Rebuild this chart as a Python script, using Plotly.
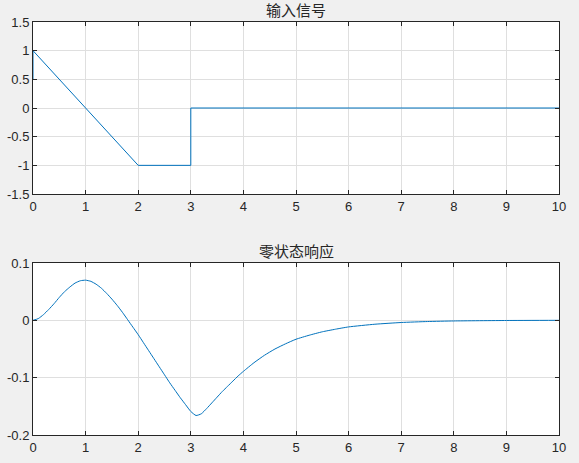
import plotly.graph_objects as go

# Input signal breakpoints
t_in = [0, 0, 2, 3, 3, 10]
x_in = [0.5, 1, -1, -1, 0, 0]

# Zero-state response
t_out = [0, 0.1, 0.2, 0.3, 0.4, 0.5, 0.6, 0.7, 0.8, 0.9, 1.0, 1.1, 1.2, 1.3, 1.4, 1.5,
         1.6, 1.7, 1.8, 1.9, 2.0, 2.1, 2.2, 2.3, 2.4, 2.5, 2.6, 2.7, 2.8, 2.9, 3.0, 3.1,
         3.2, 3.3, 3.4, 3.5, 3.6, 3.7, 3.8, 3.9, 4.0, 4.2, 4.4, 4.6, 4.8, 5.0, 5.25, 5.5,
         5.75, 6.0, 6.5, 7.0, 7.5, 8.0, 9.0, 10.0]
y_out = [0, 0.003, 0.010, 0.019, 0.029, 0.040, 0.050, 0.058, 0.065, 0.069, 0.070, 0.068,
         0.063, 0.056, 0.047, 0.037, 0.026, 0.014, 0.001, -0.012, -0.025, -0.039, -0.053,
         -0.067, -0.081, -0.095, -0.109, -0.122, -0.135, -0.147, -0.159, -0.166, -0.163,
         -0.154, -0.144, -0.134, -0.124, -0.115, -0.106, -0.097, -0.089, -0.074, -0.061,
         -0.050, -0.041, -0.033, -0.026, -0.020, -0.0155, -0.0115, -0.0068, -0.0038,
         -0.0021, -0.0011, -0.0003, 0]

top_yticks = [-1.5, -1, -0.5, 0, 0.5, 1, 1.5]
top_yticklabels = ["-1.5", "-1", "-0.5", "0", "0.5", "1", "1.5"]
bot_yticks = [-0.2, -0.1, 0, 0.1]
bot_yticklabels = ["-0.2", "-0.1", "0", "0.1"]
xticks = list(range(0, 11))
titles = ["输入信号", "零状态响应"]

LINE = "#0072BD"
AX = "#262626"
GRID = "#DFDFDF"
BG = "#F0F0F0"
tickfont = dict(family="Liberation Sans, Arial", size=13, color=AX)

fig = go.Figure()
fig.add_trace(go.Scatter(x=t_in, y=x_in, mode="lines", line=dict(color=LINE, width=1),
                         xaxis="x", yaxis="y", showlegend=False))
fig.add_trace(go.Scatter(x=t_out, y=y_out, mode="lines",
                         line=dict(color=LINE, width=1, shape="spline", smoothing=0.5),
                         xaxis="x2", yaxis="y2", showlegend=False))

axcommon = dict(showline=True, linecolor=AX, linewidth=1, mirror="ticks", ticks="inside",
                ticklen=4, tickcolor=AX, showgrid=True, gridcolor=GRID, gridwidth=1,
                zeroline=False, tickfont=tickfont, automargin=False)

fig.update_layout(
    width=579, height=463,
    margin=dict(l=33, r=20, t=22, b=28),
    paper_bgcolor=BG, plot_bgcolor="white",
    xaxis=dict(domain=[0, 1], range=[0, 10], tickvals=xticks, anchor="y", **axcommon),
    yaxis=dict(domain=[0.5835, 1], range=[-1.5, 1.5], tickvals=top_yticks,
               ticktext=top_yticklabels, anchor="x", **axcommon),
    xaxis2=dict(domain=[0, 1], range=[0, 10], tickvals=xticks, anchor="y2", **axcommon),
    yaxis2=dict(domain=[0, 0.4165], range=[-0.2, 0.1], tickvals=bot_yticks,
                ticktext=bot_yticklabels, anchor="x2", **axcommon),
    annotations=[
        dict(text=titles[0], x=0.5, y=1, xref="paper", yref="paper", xanchor="center",
             yanchor="bottom", yshift=0, showarrow=False,
             font=dict(family="Noto Sans CJK SC", size=15, color=AX)),
        dict(text=titles[1], x=0.5, y=0.4165, xref="paper", yref="paper", xanchor="center",
             yanchor="bottom", yshift=0, showarrow=False,
             font=dict(family="Noto Sans CJK SC", size=15, color=AX)),
    ],
)

fig.write_html(
    "out.html",
    config={"displayModeBar": False},
    post_script="document.body.style.margin='0';document.body.style.padding='0';"
                "document.body.style.background='#F0F0F0';document.body.style.overflow='hidden';",
)
